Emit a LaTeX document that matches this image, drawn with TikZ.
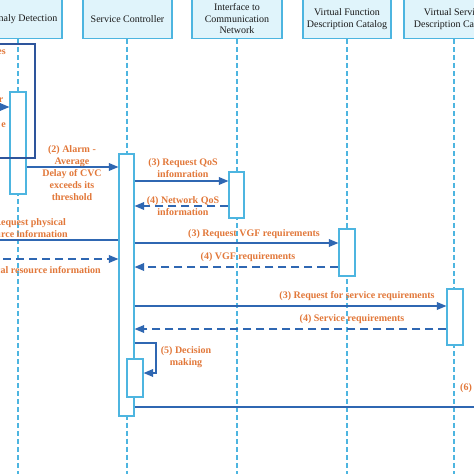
\documentclass[tikz,border=0pt]{standalone}
\usepackage{fontspec}
\setmainfont{Liberation Serif}
\usetikzlibrary{arrows}
\usetikzlibrary{positioning}
\definecolor{lifecyan}{HTML}{4DB5E0}
\definecolor{headfill}{HTML}{E0F4FB}
\definecolor{msgblue}{HTML}{2F67B2}
\definecolor{msgorange}{HTML}{E2783A}
\definecolor{loopblue}{HTML}{2E559C}

\begin{document}
\begin{tikzpicture}[line cap=butt,line join=miter,>=triangle 45,x=1pt,y=-1pt,
  header/.style={draw=lifecyan,line width=1.4pt,fill=headfill,align=center,minimum height=39pt,inner sep=1pt,font=\fontsize{10}{11.5}\selectfont,text=black!90},
  act/.style={draw=lifecyan,line width=1.3pt,fill=white,inner sep=0pt},
  lifeline/.style={draw=lifecyan,line width=1.1pt,dash pattern=on 5pt off 3pt},
  msg/.style={->,draw=msgblue,line width=1.2pt},
  reply/.style={msg,dash pattern=on 8pt off 5pt},
  lbl/.style={text=msgorange,font=\bfseries\fontsize{10}{12}\selectfont,align=center,inner sep=0pt}]
\useasboundingbox (0,0) rectangle (474,474);
\clip (0,0) rectangle (474,474);
\fill [white] (0,0) rectangle (474,474);
% heads of the lifelines
\node [header,minimum width=88pt] (ad) at (18,19) {Anomaly Detection};
\node [header,minimum width=89pt] (sc) at (127.5,19) {Service Controller};
\node [header,minimum width=90pt] (icn) at (237,19) {Interface to\\Communication\\Network};
\node [header,minimum width=88pt] (vf) at (347,19) {Virtual Function\\Description Catalog};
\node [header,minimum width=100pt] (vs) at (454,19) {Virtual Service\\Description Catalog};
\foreach \n in {ad,icn,vf,vs}
  \draw [lifeline] (\n.south) -- (\n.south |- 0,480);
\draw [lifeline] (127,38.5) -- (127,480);
% activations
\node [act,minimum width=16pt,minimum height=102pt] (ada) at (18,143) {};
\node [act,minimum width=15pt,minimum height=262pt] (sca) at (126.5,285) {};
\node [act,minimum width=15pt,minimum height=46pt] (icna) at (236.5,195) {};
\node [act,minimum width=16pt,minimum height=47pt] (vfa) at (347,252.5) {};
\node [act,minimum width=16pt,minimum height=56pt] (vsa) at (455,317) {};
\node [act,minimum width=16pt,minimum height=38pt] (sca2) at (135,378) {};
% loop on the left
\draw [loopblue,line width=1.2pt] (-10,44) rectangle (35,158);
\node [lbl,anchor=east] (l1a) at (6,52) {es};
\node [lbl,anchor=east] (l1b) at (3.5,100) {r};
\node [lbl,anchor=east] (l1c) at (6,125) {e};
\draw [msg] (-10,107) -- (ada.west |- 0,107);
% messages
\draw [msg] (ada.east |- 0,167) -- (sca.west |- 0,167);
\node [lbl] (m2) at (72,173) {(2) Alarm -\\Average\\Delay of CVC\\exceeds its\\threshold};
\draw [msg] (sca.east |- 0,181) -- (icna.west |- 0,181);
\node [lbl] (m3a) at (183,168) {(3) Request QoS\\infomration};
\draw [reply] (icna.west |- 0,206) -- (sca.east |- 0,206);
\node [lbl] (m4a) at (183,206) {(4) Network QoS\\information};
\draw [msg] (sca.west |- 0,240) -- (-10,240);
\node [lbl,anchor=east] (m3b) at (68,228) {(3) Request physical\\resource information};
\draw [reply] (-10,259) -- (sca.west |- 0,259);
\node [lbl,anchor=east] (m4b) at (101,271) {(4) Physical resource information};
\draw [msg] (sca.east |- 0,243) -- (vfa.west |- 0,243);
\node [lbl] (m3c) at (254,234) {(3) Request VGF requirements};
\draw [reply] (vfa.west |- 0,267) -- (sca.east |- 0,267);
\node [lbl] (m4c) at (248,257) {(4) VGF requirements};
\draw [msg] (sca.east |- 0,306) -- (vsa.west |- 0,306);
\node [lbl] (m3d) at (357,296) {(3) Request for service requirements};
\draw [reply] (vsa.west |- 0,329) -- (sca.east |- 0,329);
\node [lbl] (m4d) at (352,319) {(4) Service requirements};
\draw [msg] (sca.east |- 0,343) -- (156,343) -- (156,373) -- (sca2.east |- 0,373);
\node [lbl] (m5) at (186,357) {(5) Decision\\making};
\draw [msg] (sca.east |- 0,407) -- (490,407);
\node [lbl,anchor=west] (m6) at (460,388) {(6)};
\end{tikzpicture}
\end{document}
